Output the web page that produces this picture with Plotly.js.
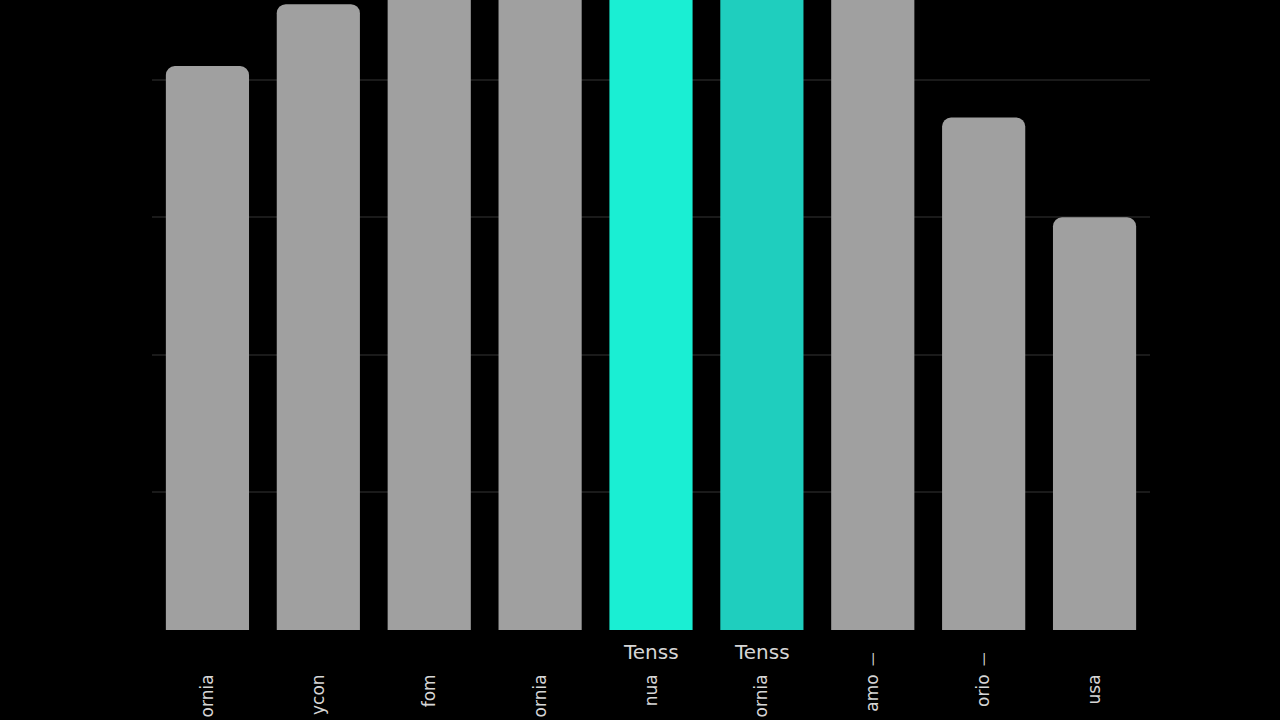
<!DOCTYPE html>
<html>
<head>
<meta charset="utf-8">
<script src="https://cdn.plot.ly/plotly-3.0.1.min.js"></script>
<style>
  html, body { margin: 0; padding: 0; background: #000; }
  #chart { width: 1280px; height: 720px; }
</style>
</head>
<body>
<div id="chart"></div>
<script>
// categories (the picture only shows the ends of the labels)
const categories = ["ornia", "ycon", "fom", "ornia", "nua", "ornia", "amo", "orio", "usa"];
// bar values (bars 3-7 run past the top edge)
const values = [82, 91, 97, 98, 100, 99, 96, 74.5, 60];
// second line of labels just under the bars
const subLabels = ["", "", "", "", "Tenss", "Tenss", "|", "|", ""];

// styles
const gray = "#a0a0a0";
const barColors = [gray, gray, gray, gray, "#1aeed3", "#1fcebe", gray, gray, gray];
const textColor = "#d6d6d6";

const trace = {
    type: "bar",
    x: categories.map((c, i) => i),
    y: values,
    marker: { color: barColors, line: { width: 0 } },
    hoverinfo: "none"
};

// annotations placed on the category positions
const annotations = [];
for (let i = 0; i < subLabels.length; i++) {
    if (!subLabels[i]) continue;
    const isBar = subLabels[i] === "|";
    annotations.push({
        x: i,
        xref: "x",
        y: isBar ? -0.03 : -0.012,
        yref: "paper",
        yanchor: "top",
        text: subLabels[i],
        showarrow: false,
        font: { family: "DejaVu Sans", size: isBar ? 13 : 20, color: textColor }
    });
}

const layout = {
    width: 1280,
    height: 720,
    margin: { l: 152, r: 130, t: 0, b: 90 },
    paper_bgcolor: "#000",
    plot_bgcolor: "#000",
    showlegend: false,
    bargap: 0.25,
    barcornerradius: 9,
    xaxis: {
        tickmode: "array",
        tickvals: categories.map((c, i) => i),
        ticktext: categories,
        tickangle: -90,
        ticklabelstandoff: 40,
        tickfont: { family: "DejaVu Sans", size: 17, color: textColor },
        showgrid: false,
        zeroline: false,
        showline: false,
        range: [-0.5, categories.length - 0.5]
    },
    yaxis: {
        range: [0, 91.6],
        dtick: 20,
        showticklabels: false,
        gridcolor: "#1a1a1a",
        gridwidth: 2,
        zeroline: false,
        showline: false
    },
    annotations: annotations
};

Plotly.newPlot("chart", [trace], layout, { staticPlot: true, displayModeBar: false });
</script>
</body>
</html>
